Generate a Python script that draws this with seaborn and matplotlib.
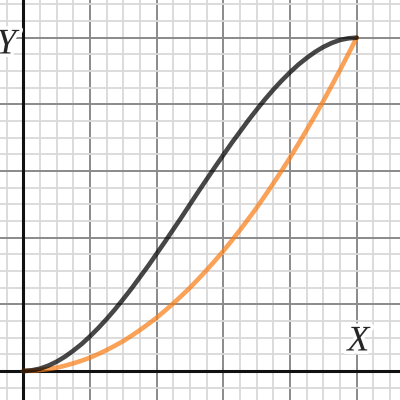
import matplotlib
matplotlib.use("Agg")
import matplotlib.pyplot as plt
import matplotlib.patheffects as pe
from matplotlib.ticker import MultipleLocator
import seaborn as sns
import pandas as pd

# values (x from 0 to 1 in steps of 0.025)
x_vals = [0.0, 0.025, 0.05, 0.075, 0.1, 0.125, 0.15, 0.175, 0.2, 0.225,
          0.25, 0.275, 0.3, 0.325, 0.35, 0.375, 0.4, 0.425, 0.45, 0.475,
          0.5, 0.525, 0.55, 0.575, 0.6, 0.625, 0.65, 0.675, 0.7, 0.725,
          0.75, 0.775, 0.8, 0.825, 0.85, 0.875, 0.9, 0.925, 0.95, 0.975, 1.0]
dark_vals = [0.0, 0.002, 0.007, 0.016, 0.028, 0.043, 0.061, 0.081, 0.104, 0.129,
             0.156, 0.185, 0.216, 0.248, 0.282, 0.316, 0.352, 0.388, 0.425, 0.462,
             0.5, 0.538, 0.575, 0.612, 0.648, 0.684, 0.718, 0.752, 0.784, 0.815,
             0.844, 0.871, 0.896, 0.919, 0.939, 0.957, 0.972, 0.984, 0.993, 0.998, 1.0]
orange_vals = [0.0, 0.001, 0.003, 0.006, 0.01, 0.016, 0.023, 0.031, 0.04, 0.051,
               0.063, 0.076, 0.09, 0.106, 0.123, 0.141, 0.16, 0.181, 0.203, 0.226,
               0.25, 0.276, 0.303, 0.331, 0.36, 0.391, 0.423, 0.456, 0.49, 0.526,
               0.563, 0.601, 0.64, 0.681, 0.723, 0.766, 0.81, 0.856, 0.903, 0.951, 1.0]
x_label = "X"
y_label = "Y"


def main():
    sns.set_style("white")

    fig = plt.figure(figsize=(4, 4), dpi=100)
    ax = fig.add_axes([0, 0, 1, 1])

    # grid: major every 0.2, minor every 0.05
    ax.xaxis.set_major_locator(MultipleLocator(0.2))
    ax.yaxis.set_major_locator(MultipleLocator(0.2))
    ax.xaxis.set_minor_locator(MultipleLocator(0.05))
    ax.yaxis.set_minor_locator(MultipleLocator(0.05))
    ax.grid(which="minor", color="#d9d9d9", linewidth=1.3, zorder=0)
    ax.grid(which="major", color="#8a8a8a", linewidth=1.4, zorder=1)
    ax.set_axisbelow(True)
    ax.tick_params(which="both", length=0, labelbottom=False, labelleft=False)
    for s in ax.spines.values():
        s.set_visible(False)

    # axes lines
    ax.axhline(0, color="#111111", linewidth=2.2, zorder=2)
    ax.axvline(0, color="#111111", linewidth=2.2, zorder=2)

    df = pd.DataFrame({"x": x_vals, "dark": dark_vals, "orange": orange_vals})
    sns.lineplot(data=df, x="x", y="orange", ax=ax, color="#fa7e19", alpha=0.72,
                 linewidth=3.3, sort=False, zorder=3,
                 solid_capstyle="round", solid_joinstyle="round")
    sns.lineplot(data=df, x="x", y="dark", ax=ax, color="#000000", alpha=0.72,
                 linewidth=3.3, sort=False, zorder=4,
                 solid_capstyle="round", solid_joinstyle="round")

    halo = [pe.withStroke(linewidth=5, foreground="white")]
    ax.text(1.005, 0.087, x_label, fontsize=26, fontstyle="italic",
            family="Liberation Serif", ha="center", va="center",
            path_effects=halo, zorder=5)
    ax.text(-0.021, 0.978, y_label, fontsize=26, fontstyle="italic",
            family="Liberation Serif", ha="right", va="center",
            path_effects=halo, zorder=5)

    ax.set_xlim(-0.07, 1.13)
    ax.set_ylim(-0.087, 1.113)
    ax.set_xlabel("")
    ax.set_ylabel("")

    fig.savefig("out.png", dpi=100)


if __name__ == "__main__":
    main()
